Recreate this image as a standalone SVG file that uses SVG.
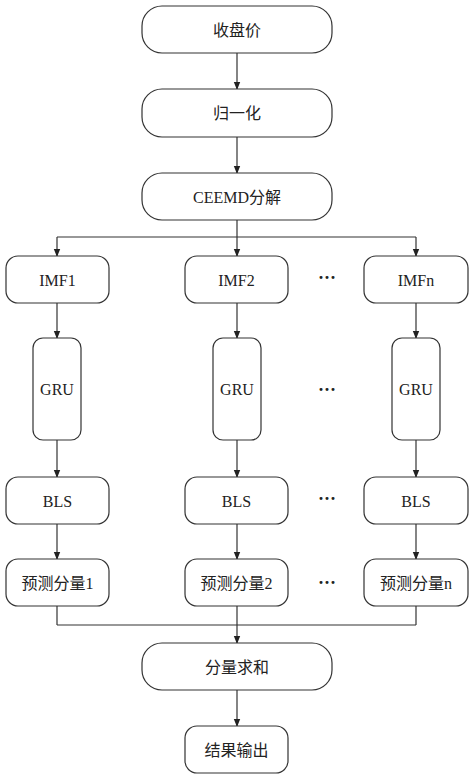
<svg xmlns="http://www.w3.org/2000/svg" width="474" height="780" viewBox="0 0 474 780">
<defs>
<marker id="arr" markerWidth="8" markerHeight="8" refX="7" refY="4" orient="auto" markerUnits="userSpaceOnUse">
<path d="M0,0.8 L8,4 L0,7.2 Z" fill="#222"/>
</marker>
</defs>
<style>
.box{fill:#fff;stroke:#333;stroke-width:1.2}
.t{font-family:"Liberation Serif","Noto Sans CJK SC",serif;font-size:16px;fill:#222;text-anchor:middle;dominant-baseline:central}
.ln{stroke:#333;stroke-width:1.2;fill:none}
.dots{font-family:"Liberation Serif",serif;font-size:18px;font-weight:bold;fill:#222;text-anchor:middle}
</style>
<rect width="474" height="780" fill="#fff"/>
<g id="connectors">
<line class="ln" x1="237" y1="53" x2="237" y2="89" marker-end="url(#arr)"/>
<line class="ln" x1="237" y1="137" x2="237" y2="173" marker-end="url(#arr)"/>
<line class="ln" x1="237" y1="220" x2="237" y2="237"/>
<line class="ln" x1="57" y1="237" x2="416" y2="237"/>
<line class="ln" x1="57" y1="237" x2="57" y2="256" marker-end="url(#arr)"/>
<line class="ln" x1="237" y1="237" x2="237" y2="256" marker-end="url(#arr)"/>
<line class="ln" x1="416" y1="237" x2="416" y2="256" marker-end="url(#arr)"/>
<line class="ln" x1="57" y1="303" x2="57" y2="338" marker-end="url(#arr)"/>
<line class="ln" x1="237" y1="303" x2="237" y2="338" marker-end="url(#arr)"/>
<line class="ln" x1="416" y1="303" x2="416" y2="338" marker-end="url(#arr)"/>
<line class="ln" x1="57" y1="440" x2="57" y2="477" marker-end="url(#arr)"/>
<line class="ln" x1="237" y1="440" x2="237" y2="477" marker-end="url(#arr)"/>
<line class="ln" x1="416" y1="440" x2="416" y2="477" marker-end="url(#arr)"/>
<line class="ln" x1="57" y1="524" x2="57" y2="559" marker-end="url(#arr)"/>
<line class="ln" x1="237" y1="524" x2="237" y2="559" marker-end="url(#arr)"/>
<line class="ln" x1="416" y1="524" x2="416" y2="559" marker-end="url(#arr)"/>
<line class="ln" x1="57" y1="606" x2="57" y2="625"/>
<line class="ln" x1="416" y1="606" x2="416" y2="625"/>
<line class="ln" x1="57" y1="625" x2="416" y2="625"/>
<line class="ln" x1="237" y1="606" x2="237" y2="643" marker-end="url(#arr)"/>
<line class="ln" x1="237" y1="690" x2="237" y2="726" marker-end="url(#arr)"/>
</g>
<g id="n_close"><rect class="box" x="142" y="6" width="190" height="47" rx="20"/><text class="t" x="237" y="30">收盘价</text></g>
<g id="n_norm"><rect class="box" x="142" y="89" width="190" height="48" rx="20"/><text class="t" x="237" y="113">归一化</text></g>
<g id="n_ceemd"><rect class="box" x="142" y="173" width="190" height="47" rx="20"/><text class="t" x="237" y="197">CEEMD分解</text></g>
<g id="n_imf1"><rect class="box" x="6" y="256" width="103" height="47" rx="12"/><text class="t" x="57.5" y="280">IMF1</text></g>
<g id="n_imf2"><rect class="box" x="185" y="256" width="103" height="47" rx="12"/><text class="t" x="236.5" y="280">IMF2</text></g>
<g id="n_imfn"><rect class="box" x="364" y="256" width="104" height="47" rx="12"/><text class="t" x="416" y="280">IMFn</text></g>
<g id="n_gru1"><rect class="box" x="33" y="338" width="48" height="102" rx="10"/><text class="t" x="57" y="389">GRU</text></g>
<g id="n_gru2"><rect class="box" x="213" y="338" width="48" height="102" rx="10"/><text class="t" x="237" y="389">GRU</text></g>
<g id="n_grun"><rect class="box" x="392" y="338" width="48" height="102" rx="10"/><text class="t" x="416" y="389">GRU</text></g>
<g id="n_bls1"><rect class="box" x="6" y="477" width="103" height="47" rx="12"/><text class="t" x="57.5" y="501">BLS</text></g>
<g id="n_bls2"><rect class="box" x="185" y="477" width="103" height="47" rx="12"/><text class="t" x="236.5" y="501">BLS</text></g>
<g id="n_blsn"><rect class="box" x="364" y="477" width="104" height="47" rx="12"/><text class="t" x="416" y="501">BLS</text></g>
<g id="n_p1"><rect class="box" x="6" y="559" width="103" height="47" rx="12"/><text class="t" x="57.5" y="583">预测分量1</text></g>
<g id="n_p2"><rect class="box" x="185" y="559" width="103" height="47" rx="12"/><text class="t" x="236.5" y="583">预测分量2</text></g>
<g id="n_pn"><rect class="box" x="364" y="559" width="104" height="47" rx="12"/><text class="t" x="416" y="583">预测分量n</text></g>
<g id="n_sum"><rect class="box" x="142" y="643" width="190" height="47" rx="20"/><text class="t" x="237" y="667">分量求和</text></g>
<g id="n_out"><rect class="box" x="185" y="726" width="103" height="47" rx="12"/><text class="t" x="236.5" y="750">结果输出</text></g>
<g id="ellipses">
<text class="dots" x="327" y="284">···</text>
<text class="dots" x="327" y="396">···</text>
<text class="dots" x="327" y="505">···</text>
<text class="dots" x="327" y="589">···</text>
</g>
</svg>
